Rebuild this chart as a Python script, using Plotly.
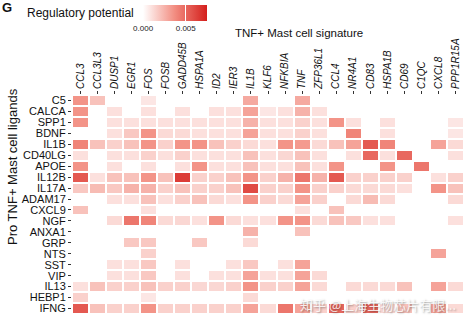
import plotly.graph_objects as go

genes = ["CCL3", "CCL3L3", "DUSP1", "EGR1", "FOS", "FOSB", "GADD45B", "HSPA1A", "ID2", "IER3",
         "IL1B", "KLF6", "NFKBIA", "TNF", "ZFP36L1", "CCL4", "NR4A1", "CD83", "HSPA1B", "CD69",
         "C1QC", "CXCL8", "PPP1R15A"]
ligands = ["C5", "CALCA", "SPP1", "BDNF", "IL1B", "CD40LG", "APOE", "IL12B", "IL17A", "ADAM17",
           "CXCL9", "NGF", "ANXA1", "GRP", "NTS", "SST", "VIP", "IL13", "HEBP1", "IFNG"]

C5     = [0.0035,0.0020,0,0,0.0008,0,0,0,0,0,0.0028,0,0,0.0028,0,0,0,0,0,0,0,0,0]
CALCA  = [0.0035,0,0.0010,0,0.0010,0,0.0010,0,0.0010,0.0010,0.0030,0.0008,0.0010,0.0025,0.0010,0,0,0,0,0,0,0,0]
SPP1   = [0.0035,0,0.0010,0.0010,0.0010,0.0010,0.0010,0.0010,0.0010,0.0010,0.0025,0.0010,0.0010,0.0015,0.0010,0.0035,0.0010,0,0.0010,0,0,0,0.0008]
BDNF   = [0,0,0.0010,0.0018,0.0035,0.0012,0.0012,0.0010,0.0010,0.0010,0.0030,0.0010,0.0010,0.0015,0.0010,0,0.0040,0,0.0010,0,0,0,0.0008]
IL1B   = [0.0040,0.0020,0.0015,0.0020,0.0035,0.0015,0.0035,0.0035,0.0020,0.0015,0.0012,0.0010,0.0035,0.0033,0.0012,0.0020,0.0030,0.0055,0.0040,0,0,0.0030,0.0012]
CD40LG = [0.0010,0,0.0010,0.0010,0.0015,0.0010,0.0015,0.0010,0.0010,0.0010,0.0020,0.0010,0.0013,0.0020,0.0010,0,0.0010,0.0050,0.0010,0.0050,0,0,0.0010]
APOE   = [0.0035,0,0.0010,0,0.0010,0,0.0010,0.0035,0.0010,0.0010,0.0020,0.0010,0.0010,0.0020,0.0010,0.0035,0,0,0.0035,0,0.0045,0,0]
IL12B  = [0.0055,0.0010,0.0020,0.0020,0.0035,0.0020,0.0065,0.0015,0.0015,0.0020,0.0035,0.0015,0.0025,0.0045,0.0025,0.0055,0.0015,0.0015,0.0015,0.0015,0,0.0010,0.0015]
IL17A  = [0.0018,0.0022,0.0018,0.0025,0.0025,0.0015,0.0020,0.0015,0.0015,0.0020,0.0060,0.0015,0.0015,0.0035,0.0015,0.0015,0.0012,0.0012,0.0012,0.0010,0,0.0035,0.0020]
ADAM17 = [0,0,0.0010,0.0010,0.0020,0.0010,0.0015,0.0020,0.0012,0.0010,0.0035,0.0015,0.0012,0.0030,0.0015,0,0.0012,0.0022,0.0012,0,0,0,0.0012]
CXCL9  = [0.0020,0,0,0,0.0010,0,0,0,0,0,0,0,0,0.0010,0,0.0020,0,0,0,0,0,0,0]
NGF    = [0,0,0.0012,0.0045,0.0040,0.0012,0.0013,0.0010,0.0035,0.0012,0.0010,0.0010,0.0035,0.0035,0.0012,0.0020,0.0018,0.0010,0.0010,0,0,0,0.0010]
ANXA1  = [0,0,0,0,0,0,0,0,0,0,0.0025,0,0,0.0020,0,0,0,0,0,0,0,0,0]
GRP    = [0,0,0,0.0018,0.0018,0,0,0.0018,0,0,0.0012,0,0,0,0,0,0,0,0,0,0,0,0]
NTS    = [0,0,0,0,0.0015,0,0,0,0,0,0,0,0,0,0,0,0,0,0,0,0,0.0030,0]
SST    = [0,0,0.0010,0.0010,0.0018,0,0.0010,0,0,0.0010,0.0018,0,0.0010,0.0030,0,0,0,0,0,0,0,0,0]
VIP    = [0,0,0.0010,0.0010,0.0018,0,0.0010,0,0.0010,0.0010,0.0030,0.0010,0.0010,0.0030,0.0012,0,0,0,0,0,0,0,0]
IL13   = [0.0010,0.0020,0.0015,0.0015,0.0020,0.0015,0.0015,0.0013,0.0013,0.0015,0.0035,0.0015,0.0015,0.0030,0.0012,0,0.0012,0.0012,0.0012,0.0020,0,0.0030,0.0012]
HEBP1  = [0.0015,0,0,0,0.0008,0,0,0,0,0,0.0012,0,0,0,0,0,0,0,0,0,0,0,0]
IFNG   = [0.0055,0.0020,0.0015,0.0015,0.0035,0.0015,0.0015,0.0015,0.0015,0.0015,0.0030,0.0012,0.0045,0.0030,0.0015,0.0050,0.0015,0.0050,0.0012,0.0020,0,0.0030,0.0012]

z = [C5, CALCA, SPP1, BDNF, IL1B, CD40LG, APOE, IL12B, IL17A, ADAM17,
     CXCL9, NGF, ANXA1, GRP, NTS, SST, VIP, IL13, HEBP1, IFNG]

colorbar_ticks = [0, 0.005]
colorbar_ticktext = ["0.000", "0.005"]

W, H = 474, 323
L, R, T, B = 72, 10, 95, 9
PW, PH = W - L - R, H - T - B

def px(x):
    return (x - L) / PW

def py(y):
    return 1 - (y - T) / PH

FONT = "Liberation Sans, Arial, sans-serif"

fig = go.Figure(go.Heatmap(
    z=z, x=genes, y=ligands,
    zmin=0, zmax=0.0075,
    colorscale=[[0, "#ffffff"], [0.5, "#f28c80"], [1, "#d41f1c"]],
    xgap=2, ygap=2,
    colorbar=dict(
        orientation="h", xref="container", yref="container",
        x=173 / W, xanchor="left", y=1 - 5 / H, yanchor="top",
        len=64, lenmode="pixels", thickness=16, thicknessmode="pixels",
        outlinewidth=0, xpad=0, ypad=0,
        tickvals=colorbar_ticks, ticktext=colorbar_ticktext,
        ticks="inside", ticklen=16, tickcolor="white", tickwidth=1,
        tickfont=dict(size=8, family=FONT, color="#222"),
        ticklabelposition="outside bottom",
    ),
))

fig.update_layout(
    width=W, height=H,
    margin=dict(l=L, r=R, t=T, b=B, pad=0, autoexpand=False),
    paper_bgcolor="white", plot_bgcolor="white",
    font=dict(family=FONT, color="#111"),
    xaxis=dict(side="top", tickangle=-90, ticks="outside", ticklen=3, tickcolor="#333",
               tickmode="linear", dtick=1, automargin=False,
               tickfont=dict(size=10, style="italic", family=FONT, color="#111"),
               showgrid=False, zeroline=False, showline=False),
    yaxis=dict(autorange="reversed", ticks="outside", ticklen=3, tickcolor="#333",
               tickmode="linear", dtick=1, automargin=False,
               tickfont=dict(size=11, family=FONT, color="#111"),
               showgrid=False, zeroline=False, showline=False),
    annotations=[
        dict(text="Regulatory potential", xref="paper", yref="paper", x=px(25), y=py(13),
             xanchor="left", yanchor="middle", showarrow=False, font=dict(size=12, family=FONT, color="#111")),
        dict(text="TNF+ Mast cell signature", xref="paper", yref="paper", x=px(233), y=py(33),
             xanchor="left", yanchor="middle", showarrow=False, font=dict(size=11.5, family=FONT, color="#111")),
        dict(text="Pro TNF+ Mast cell ligands", xref="paper", yref="paper", x=px(12), y=py(167),
             xanchor="center", yanchor="middle", textangle=-90, showarrow=False,
             font=dict(size=13, family=FONT, color="#111")),
        dict(text="<b>G</b>", xref="paper", yref="paper", x=px(0), y=py(7),
             xanchor="left", yanchor="middle", showarrow=False, font=dict(size=13, family=FONT, color="#111")),
        dict(text="知乎 @上海生物芯片有限...", xref="paper", yref="paper", x=px(298), y=py(304),
             xanchor="left", yanchor="middle", showarrow=False,
             font=dict(size=13, family="Noto Sans CJK SC", color="rgba(255,255,255,0.85)",
                       shadow="1px 1px 2px rgba(0,0,0,0.45)")),
    ],
)

fig.write_html("out.html")
